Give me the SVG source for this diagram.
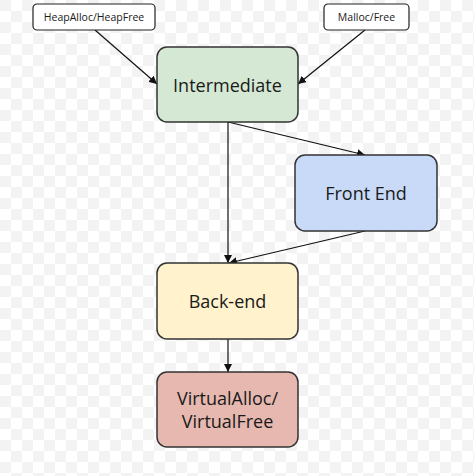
<svg xmlns="http://www.w3.org/2000/svg" width="474" height="476" viewBox="0 0 474 476">
<defs>
<pattern id="chk" width="22" height="22" patternUnits="userSpaceOnUse">
<rect width="22" height="22" fill="#ffffff"/>
<rect width="11" height="11" fill="#f3f3f3"/>
<rect x="11" y="11" width="11" height="11" fill="#f3f3f3"/>
</pattern>
<marker id="arr" viewBox="0 0 10 10" refX="10" refY="5" markerWidth="8" markerHeight="8" markerUnits="userSpaceOnUse" orient="auto">
<path d="M0,0 L10,5 L0,10 z" fill="#111"/>
</marker>
<style>
.box{stroke:#333;stroke-width:1.5}
.small{fill:#fff;stroke:#222;stroke-width:1.2}
.lbl{font-family:"Open Sans","Noto Sans","DejaVu Sans",sans-serif;font-size:18px;fill:#1a1a1a;text-anchor:middle;dominant-baseline:central}
.slbl{font-family:"Open Sans","Noto Sans","DejaVu Sans",sans-serif;font-size:10.5px;fill:#1a1a1a;text-anchor:middle;dominant-baseline:central}
.edge{stroke:#111;stroke-width:1.2;fill:none;marker-end:url(#arr)}
</style>
</defs>
<rect width="474" height="476" fill="url(#chk)"/>
<g id="connectors">
<line class="edge" x1="95" y1="30" x2="157" y2="84"/>
<line class="edge" x1="365" y1="30" x2="298" y2="84"/>
<line class="edge" x1="228" y1="122" x2="228" y2="263"/>
<line class="edge" x1="228" y1="122" x2="365" y2="155"/>
<line class="edge" x1="365" y1="231" x2="229" y2="263"/>
<line class="edge" x1="228" y1="339" x2="228" y2="372"/>
</g>
<g id="heapalloc">
<rect class="small" x="33" y="4" width="122" height="26" rx="4"/>
<text class="slbl" x="94" y="17">HeapAlloc/HeapFree</text>
</g>
<g id="malloc">
<rect class="small" x="324" y="4" width="85" height="26" rx="4"/>
<text class="slbl" x="366.5" y="17">Malloc/Free</text>
</g>
<g id="intermediate">
<rect class="box" x="157" y="47" width="141" height="75" rx="10" fill="#d5e8d4"/>
<text class="lbl" x="227.5" y="85">Intermediate</text>
</g>
<g id="frontend">
<rect class="box" x="295" y="155" width="142" height="76" rx="10" fill="#c9daf8"/>
<text class="lbl" x="366" y="193">Front End</text>
</g>
<g id="backend">
<rect class="box" x="157" y="263" width="141" height="76" rx="10" fill="#fff2cc"/>
<text class="lbl" x="227.5" y="301">Back-end</text>
</g>
<g id="virtualalloc">
<rect class="box" x="157" y="372" width="141" height="75" rx="10" fill="#e6b8af"/>
<text class="lbl" x="227.5" y="398">VirtualAlloc/</text>
<text class="lbl" x="227.5" y="421">VirtualFree</text>
</g>
</svg>
